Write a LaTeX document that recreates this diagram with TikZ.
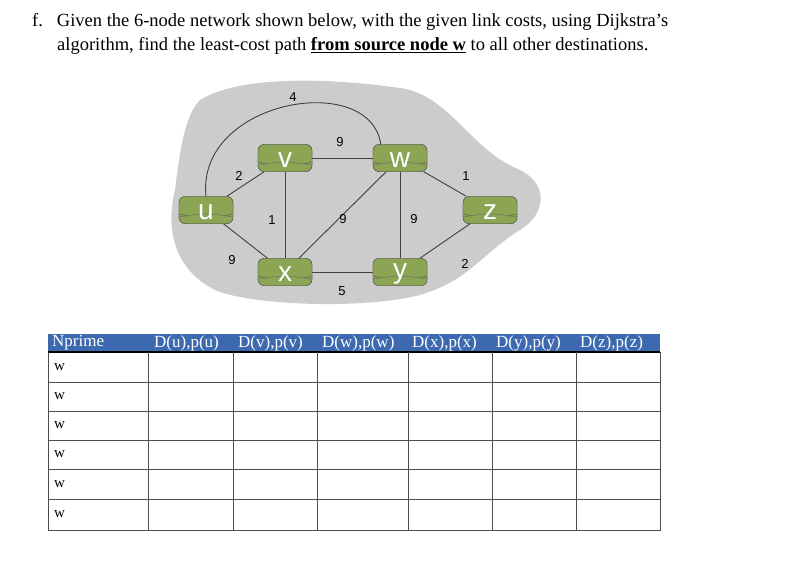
\documentclass[tikz,border=0pt]{standalone}
\usepackage{fontspec}
\setmainfont{Liberation Serif}
\newfontfamily\lbl{Liberation Sans}
\definecolor{routergreen}{RGB}{140,165,85}
\definecolor{hdrblue}{RGB}{60,105,175}
\begin{document}
\begin{tikzpicture}[x=1pt,y=-1pt,
  router/.style={draw=black!70,fill=routergreen,rounded corners=6pt,minimum width=54pt,minimum height=27pt,inner sep=0pt},
  rlabel/.style={text=white,font=\lbl\fontsize{28}{28}\selectfont,inner sep=0pt},
  cost/.style={font=\lbl\fontsize{13}{13}\selectfont},
  link/.style={draw=black!75,line width=0.9pt},
  hdr/.style={text=white,font=\fontsize{17}{18}\selectfont,anchor=west},
  cell/.style={font=\fontsize{15}{16}\selectfont,anchor=west}]
\useasboundingbox (0,0) rectangle (799,581);
\fill[white] (0,0) rectangle (799,581);
\node[anchor=west,font=\fontsize{18.5}{20}\selectfont,inner sep=0pt] (t1) at (32,22) {f.\hspace{14pt}Given the 6-node network shown below, with the given link costs, using Dijkstra's};
\node[anchor=west,font=\fontsize{18.5}{20}\selectfont,inner sep=0pt] (t2) at (57,46) {algorithm, find the least-cost path \textbf{\underline{from source node w}} to all other destinations.};
% blob
\fill[black!20] (200,100) .. controls (240,75) and (330,78) .. (400,88)
  .. controls (450,95) and (470,150) .. (520,170)
  .. controls (550,185) and (545,215) .. (520,230)
  .. controls (480,255) and (470,280) .. (420,295)
  .. controls (360,310) and (250,305) .. (215,290)
  .. controls (175,270) and (165,230) .. (175,190)
  .. controls (180,150) and (185,115) .. (200,100) -- cycle;
\node[router] (u) at (206,210) {};
\node[router] (v) at (285,158) {};
\node[router] (w) at (400,158) {};
\node[router] (z) at (490,210) {};
\node[router] (x) at (285,272) {};
\node[router] (y) at (400,272) {};
\draw[link] (u.north) .. controls (196,100) and (370,70) .. ([xshift=8pt]w.north west);
\draw[link] (u) -- (v); \draw[link] (v) -- (w); \draw[link] (u) -- (x);
\draw[link] (v) -- (x); \draw[link] (x) -- (w); \draw[link] (w) -- (y);
\draw[link] (x) -- (y); \draw[link] (w) -- (z); \draw[link] (y) -- (z);
\foreach \n in {u,v,w,z,x,y}{
  \node[router] at (\n) {};
  \draw[black!70] ([xshift=1pt,yshift=-4pt]\n.west) -- ++(7,2);
  \draw[black!70] ([xshift=-1pt,yshift=-4pt]\n.east) -- ++(-7,2);
  \draw[black!60] ([yshift=-7pt]\n.west) .. controls ([yshift=-3pt]\n.center) .. ([yshift=-7pt]\n.east);
  \node[rlabel] at ([yshift=-2pt]\n) {\n};
}
\node[cost] (c1) at (293,97) {4};
\node[cost] (c2) at (340,142) {9};
\node[cost] (c3) at (239,176) {2};
\node[cost] (c4) at (272,220) {1};
\node[cost] (c5) at (343,219) {9};
\node[cost] (c6) at (414,219) {9};
\node[cost] (c7) at (466,176) {1};
\node[cost] (c8) at (232,260) {9};
\node[cost] (c9) at (342,291) {5};
\node[cost] (c10) at (465,264) {2};
% table
\fill[hdrblue] (48,334) rectangle (660,352);
\foreach \xx/\tt in {52/Nprime,154/{D(u),p(u)},238/{D(v),p(v)},322/{D(w),p(w)},412/{D(x),p(x)},496/{D(y),p(y)},580/{D(z),p(z)}}
  \node[hdr,inner sep=0pt] at (\xx,343) {\tt};
\foreach \ya/\yb in {352/382,382/411,411/440,440/469,469/499,499/530}{
  \draw[black!70,line width=0.6pt] (48,\ya) rectangle (660,\yb);
  \node[cell,inner sep=0pt] at (54,{(\ya+\yb)/2}) {w};
}
\draw[black,line width=1.2pt] (48,352) -- (660,352);
\foreach \xx in {148,233,317,408,492,576}
  \draw[black!70,line width=0.6pt] (\xx,352) -- (\xx,530);
\end{tikzpicture}
\end{document}
